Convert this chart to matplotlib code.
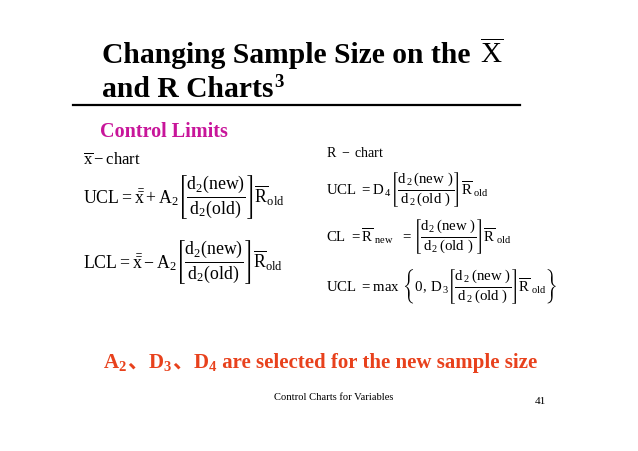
import matplotlib
matplotlib.use("Agg")
import matplotlib.pyplot as plt

plt.rcParams['mathtext.fontset'] = 'custom'
plt.rcParams['mathtext.rm'] = 'Liberation Serif'
plt.rcParams['mathtext.it'] = 'Liberation Serif'
plt.rcParams['mathtext.bf'] = 'Liberation Serif:bold'
plt.rcParams['mathtext.fallback'] = 'stix'

W, H = 638, 451

title_lines = [r'Changing Sample Size on the ', r'and R Charts']
title_sup = r'$\mathbf{3}$'
title_xbar = r'$\overline{\mathrm{X}}$'
section = 'Control Limits'
xbar_label = r'$\overline{x} - chart$'
r_label = r'$R\ -\ chart$'
frac = r'\left[\dfrac{d_2(new)}{d_2(old)}\right]'
frac_r = r'\left[\dfrac{d_{\,2}\,(new\ )}{d_{\,2}\,(old\ )}\right]'
xbar_formulas = [
    r'$UCL = \bar{\bar{x}} + A_2' + frac + r'\overline{R}_{old}$',
    r'$LCL = \bar{\bar{x}} - A_2' + frac + r'\overline{R}_{old}$',
]
r_formulas = [
    r'$UCL\ = D_{\,4}' + frac_r + r'\overline{R}_{\ old}$',
    r'$CL\ = \overline{R}_{\ new}\ \ = ' + frac_r + r'\overline{R}_{\ old}$',
    r'$UCL\ = max\ \left\{0,\, D_{\,3}' + frac_r + r'\overline{R}_{\ old}\right\}$',
]
note_parts = [r'$\mathbf{A}_{\mathbf{2}}$', '、', r'$\mathbf{D}_{\mathbf{3}}$', '、',
              r'$\mathbf{D}_{\mathbf{4}}$', ' are selected for the new sample size']
footer = 'Control Charts for Variables'
page = '41'


def px(x, y):
    return x / W, 1 - y / H


fig = plt.figure(figsize=(W / 100, H / 100), dpi=100)
fig.patch.set_facecolor('white')
renderer = fig.canvas.get_renderer()

serif = ['Liberation Serif', 'DejaVu Sans']
cjk = ['Noto Sans CJK SC', 'DejaVu Sans']


def run(x, y, parts, **kw):
    # lay pieces side by side, each starting where the previous one ended
    for text, fam in parts:
        t = fig.text(*px(x, y), text, family=fam, va='baseline', **kw)
        x = t.get_window_extent(renderer).x1
    return x


# title
end = run(102, 63, [(title_lines[0], serif)], fontsize=21.3, fontweight='bold')
fig.text(*px(end + 2, 63), title_xbar, fontsize=21, va='baseline')
end = run(102, 97, [(title_lines[1], serif)], fontsize=21.3, fontweight='bold')
fig.text(*px(end, 87), title_sup, fontsize=13.5, va='baseline')
fig.add_artist(plt.Line2D([73 / W, 520 / W], [1 - 105 / H, 1 - 105 / H], color='black', lw=1.6))

fig.text(*px(100, 137), section, fontsize=14.5, fontweight='bold', color='#c8159a', family=serif, va='baseline')

# x-bar chart
fig.text(*px(83, 160), xbar_label, fontsize=12, va='center')
fig.text(*px(83, 197), xbar_formulas[0], fontsize=12.8, va='center')
fig.text(*px(83, 262), xbar_formulas[1], fontsize=12.8, va='center')

# R chart
fig.text(*px(326, 153), r_label, fontsize=10, va='center')
for yy, f in zip([190, 237, 287], r_formulas):
    fig.text(*px(326, yy), f, fontsize=10.7, va='center')

fams = [serif, cjk, serif, cjk, serif, serif]
run(103, 368, list(zip(note_parts, fams)), fontsize=15, fontweight='bold', color='#e8411c')

fig.text(*px(334, 398), footer, fontsize=7.6, family=serif, ha='center', va='center')
fig.text(*px(540, 401), page, fontsize=8, family=serif, ha='center', va='center')

fig.savefig('out.png', dpi=100)
